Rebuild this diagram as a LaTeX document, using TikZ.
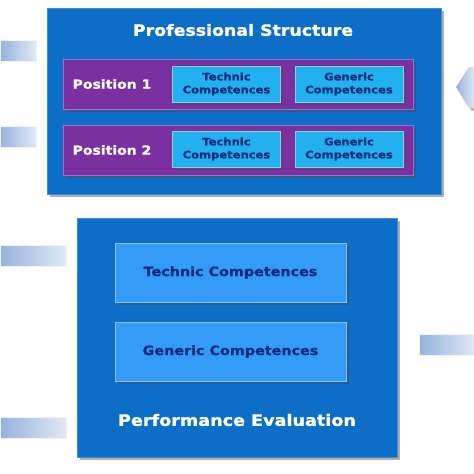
\documentclass[tikz,border=0pt]{standalone}
\usepackage{fontspec}
\setmainfont{DejaVu Sans}[FakeStretch=1.12,BoldFeatures={FakeBold=1.2}]
\usetikzlibrary{shadows}
\definecolor{outerblue}{RGB}{12,110,198}
\definecolor{outeredge}{RGB}{60,140,220}
\definecolor{posviolet}{RGB}{122,48,160}
\definecolor{posedge}{RGB}{160,110,200}
\definecolor{cyanbox}{RGB}{34,176,240}
\definecolor{cyanedge}{RGB}{130,215,250}
\definecolor{lightbox}{RGB}{52,156,248}
\definecolor{lightedge}{RGB}{130,195,255}
\definecolor{navytext}{RGB}{12,45,125}
\definecolor{bardark}{RGB}{150,178,222}
\definecolor{barlight}{RGB}{225,233,245}
\tikzset{
  shade/.style={drop shadow={shadow xshift=2.5pt,shadow yshift=-2.5pt,opacity=0.45,fill=black!70}},
  outerbox/.style={shade,fill=outerblue,draw=outeredge,line width=0.8pt,inner sep=0pt},
  posbox/.style={shade,fill=posviolet,draw=posedge,line width=0.8pt,inner sep=0pt,minimum width=350pt,minimum height=50pt},
  compbox/.style={shade,fill=cyanbox,draw=cyanedge,line width=0.6pt,inner sep=0pt,minimum width=108pt,minimum height=36pt,
     text=navytext,font=\bfseries\fontsize{10.3}{13}\selectfont,align=center},
  bigcomp/.style={shade,fill=lightbox,draw=lightedge,line width=0.8pt,inner sep=0pt,minimum width=231pt,minimum height=59pt,
     text=navytext,font=\bfseries\fontsize{12.8}{14}\selectfont},
  whitelabel/.style={text=white,font=\bfseries\fontsize{#1}{#1}\selectfont,inner sep=0pt},
  bar/.style={left color=bardark,right color=barlight,draw=white!85!bardark,line width=0.4pt,inner sep=0pt,anchor=north west},
}
\begin{document}
\begin{tikzpicture}[x=1pt,y=-1pt]
\useasboundingbox[fill=white] (0,0) rectangle (474,474);
% left bars
\node[bar,minimum width=36pt,minimum height=21pt] (bar1) at (0,40) {};
\node[bar,minimum width=36pt,minimum height=21pt] (bar2) at (0,126) {};
\node[bar,minimum width=66pt,minimum height=21pt] (bar3) at (0,245) {};
\node[bar,minimum width=66pt,minimum height=21pt] (bar4) at (0,417) {};
\node[bar,minimum width=56pt,minimum height=21pt] (bar5) at (419,334) {};
% right chevron
\shade[left color=bardark,right color=barlight] (456,87) -- (469,67) -- (475,67) -- (475,108) -- (469,108) -- cycle;
% top structure
\node[outerbox,minimum width=394pt,minimum height=186pt] (ps) at (244,101) {};
\node[whitelabel=15.5] (pstitle) at (243,30) {Professional Structure};
\node[posbox] (p1) at (238,84) {};
\node[posbox] (p2) at (238,150) {};
\node[whitelabel=12.5] (p1l) at (112,84) {Position 1};
\node[whitelabel=12.5] (p2l) at (112,150) {Position 2};
\node[compbox] (t1) at (226.5,84) {Technic\\Competences};
\node[compbox] (g1) at (349,84) {Generic\\Competences};
\node[compbox] (t2) at (226.5,149) {Technic\\Competences};
\node[compbox] (g2) at (349,149) {Generic\\Competences};
% bottom evaluation
\node[outerbox,minimum width=320pt,minimum height=239pt] (pe) at (237,337.5) {};
\node[bigcomp] (tc) at (230.5,272.5) {Technic Competences};
\node[bigcomp] (gc) at (230.5,351.5) {Generic Competences};
\node[whitelabel=15.7] (petitle) at (237,420) {Performance Evaluation};
\end{tikzpicture}
\end{document}
